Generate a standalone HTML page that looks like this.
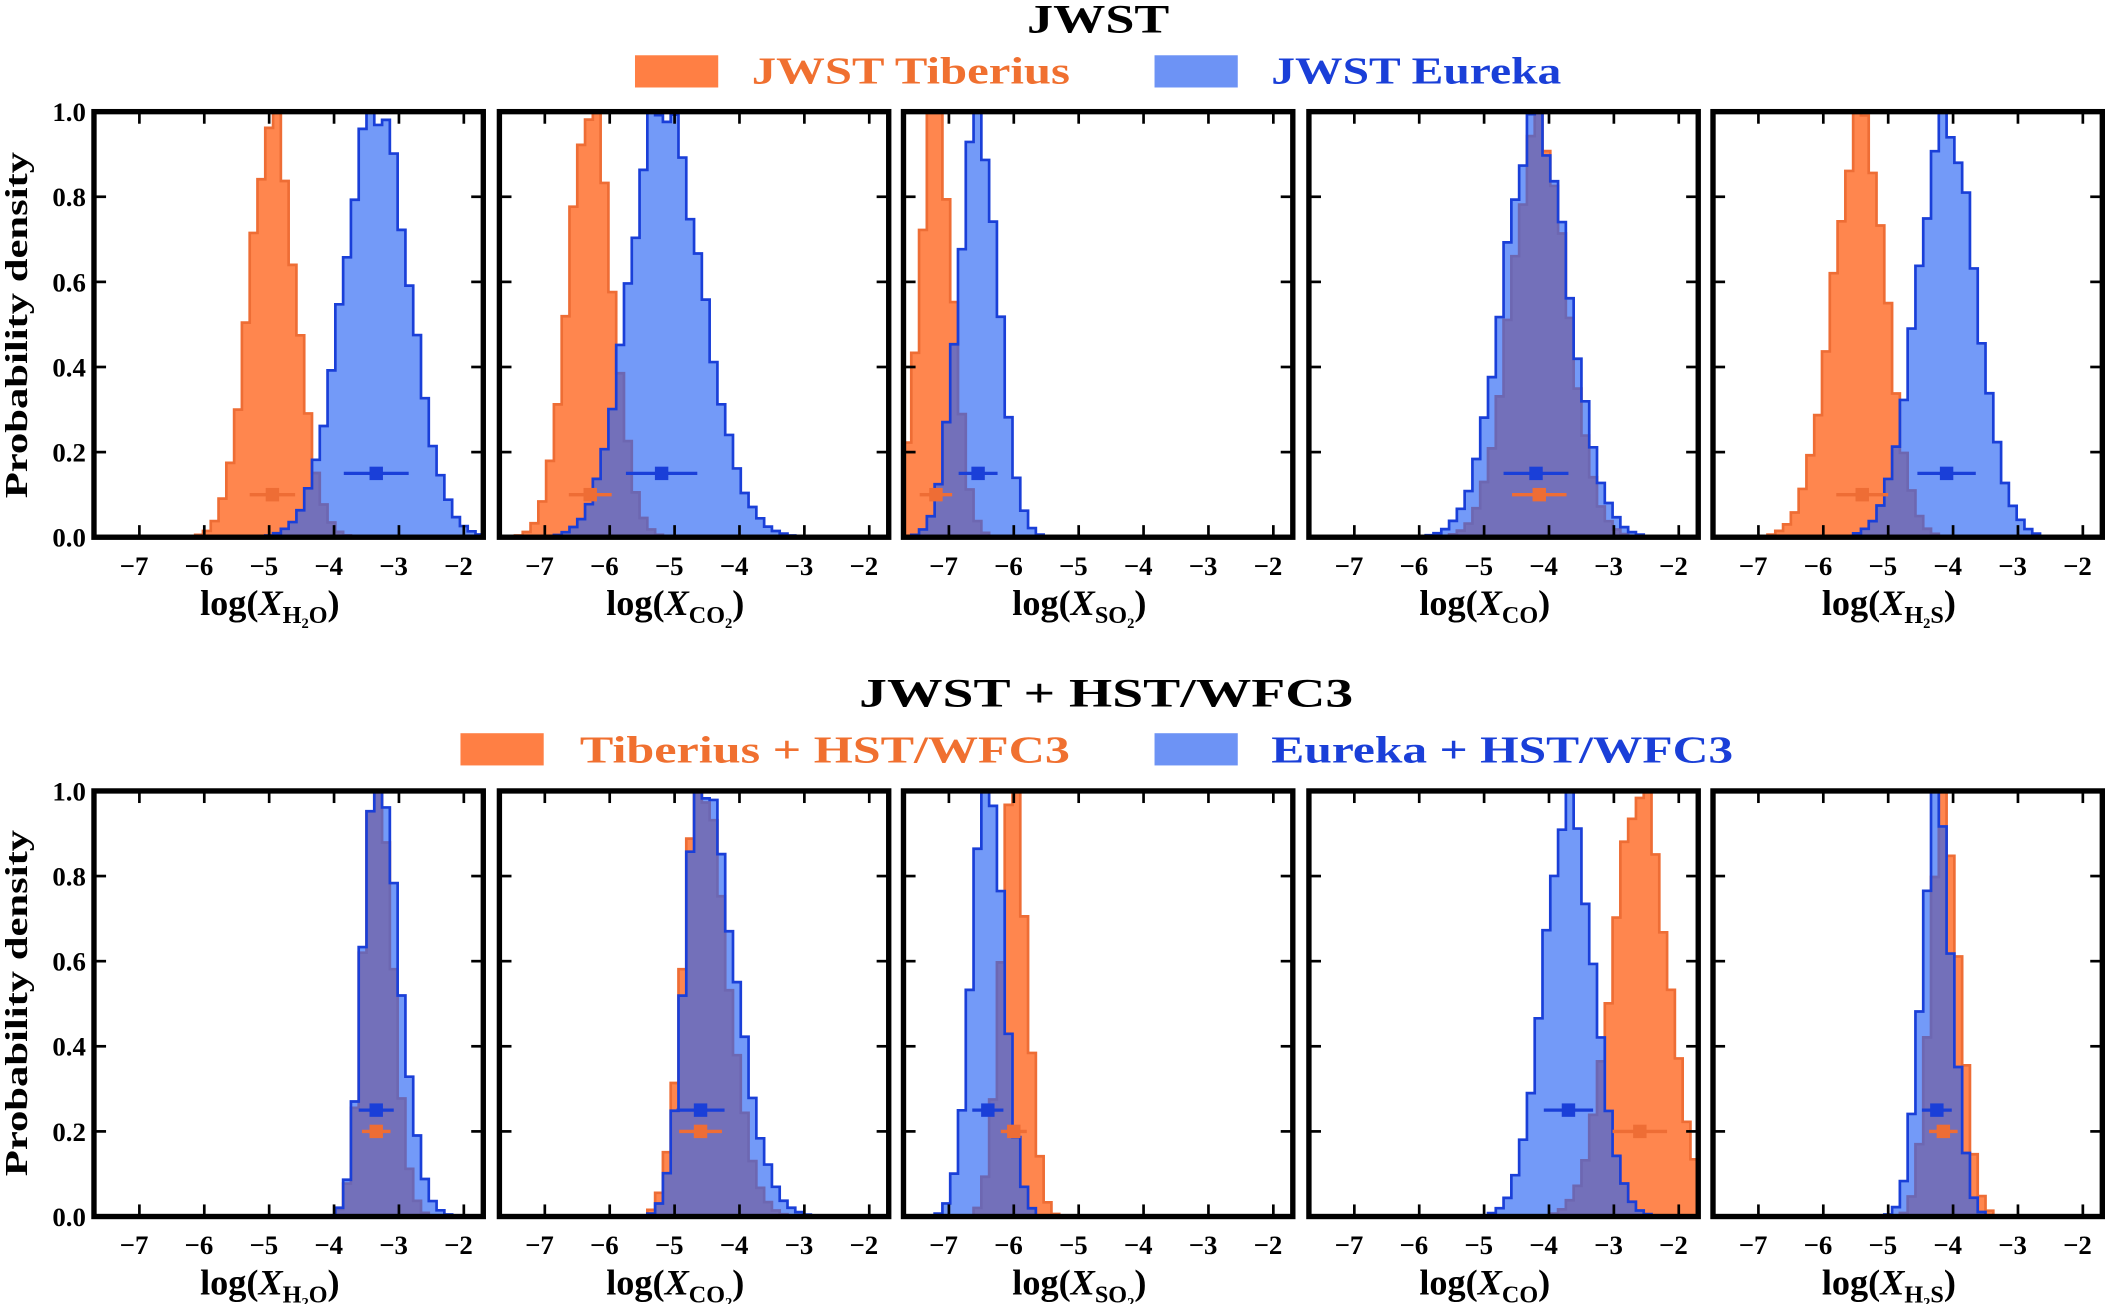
<!DOCTYPE html>
<html><head><meta charset="utf-8"><style>
html,body{margin:0;padding:0;background:#fff}
svg{display:block}
text{font-family:"Liberation Serif","DejaVu Serif",serif;font-weight:bold}
</style></head><body>
<svg id="s" width="2105" height="1304" viewBox="0 0 1568 971" xmlns="http://www.w3.org/2000/svg">
<rect width="1568" height="971" fill="#fff"/>
<text x="818" y="24" font-size="30" text-anchor="middle" textLength="106" lengthAdjust="spacingAndGlyphs">JWST</text>
<rect x="473" y="41" width="62" height="24" fill="#ff7f44"/>
<text x="560" y="62" font-size="28" fill="#f07030" textLength="237" lengthAdjust="spacingAndGlyphs">JWST Tiberius</text>
<rect x="860" y="41" width="62" height="24" fill="#6d93f5"/>
<text x="947" y="62" font-size="28" fill="#1a3fd8" textLength="216" lengthAdjust="spacingAndGlyphs">JWST Eureka</text>
<text x="824" y="526" font-size="30" text-anchor="middle" textLength="368" lengthAdjust="spacingAndGlyphs">JWST + HST/WFC3</text>
<rect x="343" y="546" width="62" height="24" fill="#ff7f44"/>
<text x="432" y="568" font-size="28" fill="#f07030" textLength="365" lengthAdjust="spacingAndGlyphs">Tiberius + HST/WFC3</text>
<rect x="860" y="546" width="62" height="24" fill="#6d93f5"/>
<text x="947" y="568" font-size="28" fill="#1a3fd8" textLength="344" lengthAdjust="spacingAndGlyphs">Eureka + HST/WFC3</text>
<text transform="translate(20,242) rotate(-90)" font-size="24" text-anchor="middle" textLength="258" lengthAdjust="spacingAndGlyphs">Probability density</text>
<text transform="translate(20,747) rotate(-90)" font-size="24" text-anchor="middle" textLength="258" lengthAdjust="spacingAndGlyphs">Probability density</text>
<g id="g"></g>
</svg>
<script>
(function(){
var NS="http://www.w3.org/2000/svg",G=document.getElementById("g");
function el(t,a,txt){var e=document.createElementNS(NS,t);for(var k in a)e.setAttribute(k,a[k]);if(txt!==undefined)e.textContent=txt;G.appendChild(e);return e;}
var PX=[70,372,673,975,1276],W=290,H=317,X0=-7.7,X1=-1.7;
var subs=["H₂O","CO₂","SO₂","CO","H₂S"];
var topD=[
 [[-4.95,0.35,0],[-3.35,0.5,0]],
 [[-6.3,0.33,0],[-5.2,0.55,0.1]],
 [[-7.2,0.25,0],[-6.55,0.3,0]],
 [[-4.15,0.42,0],[-4.2,0.5,0]],
 [[-5.4,0.4,-0.1],[-4.1,0.45,0]]];
var botD=[
 [[-3.35,0.22,0.1],[-3.35,0.27,0.25]],
 [[-4.6,0.33,0.2],[-4.6,0.37,0.35]],
 [[-6.0,0.2,0],[-6.4,0.24,0]],
 [[-2.6,0.42,0],[-3.7,0.38,0]],
 [[-4.15,0.22,0.1],[-4.25,0.23,0]]];
function hist(px,py,m,s,sk,fill,op,stroke){
 var bw=0.12,x,pts=[];
 for(x=X0;x<X1-1e-9;x+=bw){
  var c=x+bw/2,z=(c-m)/s*(c>m?1/(1+sk):1/(1-sk));
  var v=Math.exp(-0.5*z*z);
  v*=1+0.04*Math.sin(c*37.1+m*5);
  if(v<0.004)v=0;
  pts.push([x,v]);
 }
 var mx=0;pts.forEach(function(p){if(p[1]>mx)mx=p[1];});
 var sx=function(x){return px+(x-X0)/(X1-X0)*W},sy=function(v){return py+H-v/mx*H};
 var d="M"+sx(X0)+","+(py+H);
 pts.forEach(function(p){d+=" L"+sx(p[0])+","+sy(p[1])+" L"+sx(p[0]+bw)+","+sy(p[1]);});
 d+=" L"+sx(X1)+","+(py+H)+" Z";
 el("path",{d:d,fill:fill,"fill-opacity":op,stroke:stroke,"stroke-width":2});
}
function panel(px,py,data,ey,i){
 var sx=function(x){return px+(x-X0)/(X1-X0)*W},sy=function(v){return py+H-v*H};
 var cp=el("clipPath",{id:"c"+py+"_"+i});
 var cr=document.createElementNS(NS,"rect");
 cr.setAttribute("x",px);cr.setAttribute("y",py);cr.setAttribute("width",W);cr.setAttribute("height",H);
 cp.appendChild(cr);
 var g0=G;
 var cg=document.createElementNS(NS,"g");cg.setAttribute("clip-path","url(#c"+py+"_"+i+")");G.appendChild(cg);
 G=cg;
 hist(px,py,data[0][0],data[0][1],data[0][2],"#ff7f44",0.95,"#ee6d35");
 hist(px,py,data[1][0],data[1][1],data[1][2],"#2864f5",0.65,"#1a3fd8");
 var cols=["#ee6d35","#1a3fd8"];
 for(var k=0;k<2;k++){var m=data[k][0],s=data[k][1],y=sy(ey[k]);
  el("line",{x1:sx(m-s),x2:sx(m+s),y1:y,y2:y,stroke:cols[k],"stroke-width":2.5});
  el("rect",{x:sx(m)-5,y:y-5,width:10,height:10,fill:cols[k]});}
 G=g0;
 for(var t=-7;t<=-2;t++){var x=sx(t);
  el("line",{x1:x,x2:x,y1:py+H,y2:py+H-9,stroke:"#000","stroke-width":2});
  el("line",{x1:x,x2:x,y1:py,y2:py+9,stroke:"#000","stroke-width":2});
  el("text",{x:x-4,y:py+H+28,"font-size":20,"text-anchor":"middle","font-weight":"normal"},"\u2212"+(-t));}
 for(var j=0;j<=5;j++){var y2=sy(j*0.2);
  el("line",{x1:px,x2:px+9,y1:y2,y2:y2,stroke:"#000","stroke-width":2});
  el("line",{x1:px+W,x2:px+W-9,y1:y2,y2:y2,stroke:"#000","stroke-width":2});
  if(i==0)el("text",{x:px-6,y:y2+7,"font-size":20,"text-anchor":"end"},(j*0.2).toFixed(1));}
 el("rect",{x:px,y:py,width:W,height:H,fill:"none",stroke:"#000","stroke-width":4});
 var tx=el("text",{x:px+W/2-14,y:py+H+58,"font-size":27,"text-anchor":"middle"});
 function ts(a,txt){var e=document.createElementNS(NS,"tspan");for(var k in a)e.setAttribute(k,a[k]);e.textContent=txt;tx.appendChild(e);}
 ts({},"log(");ts({"font-style":"italic"},"X");ts({"font-size":18,dy:6},subs[i]);ts({dy:-6},")");
}
for(var i=0;i<5;i++){panel(PX[i],83,topD[i],[0.1,0.15],i);panel(PX[i],589,botD[i],[0.2,0.25],i);}
})();
</script>
</body></html>
